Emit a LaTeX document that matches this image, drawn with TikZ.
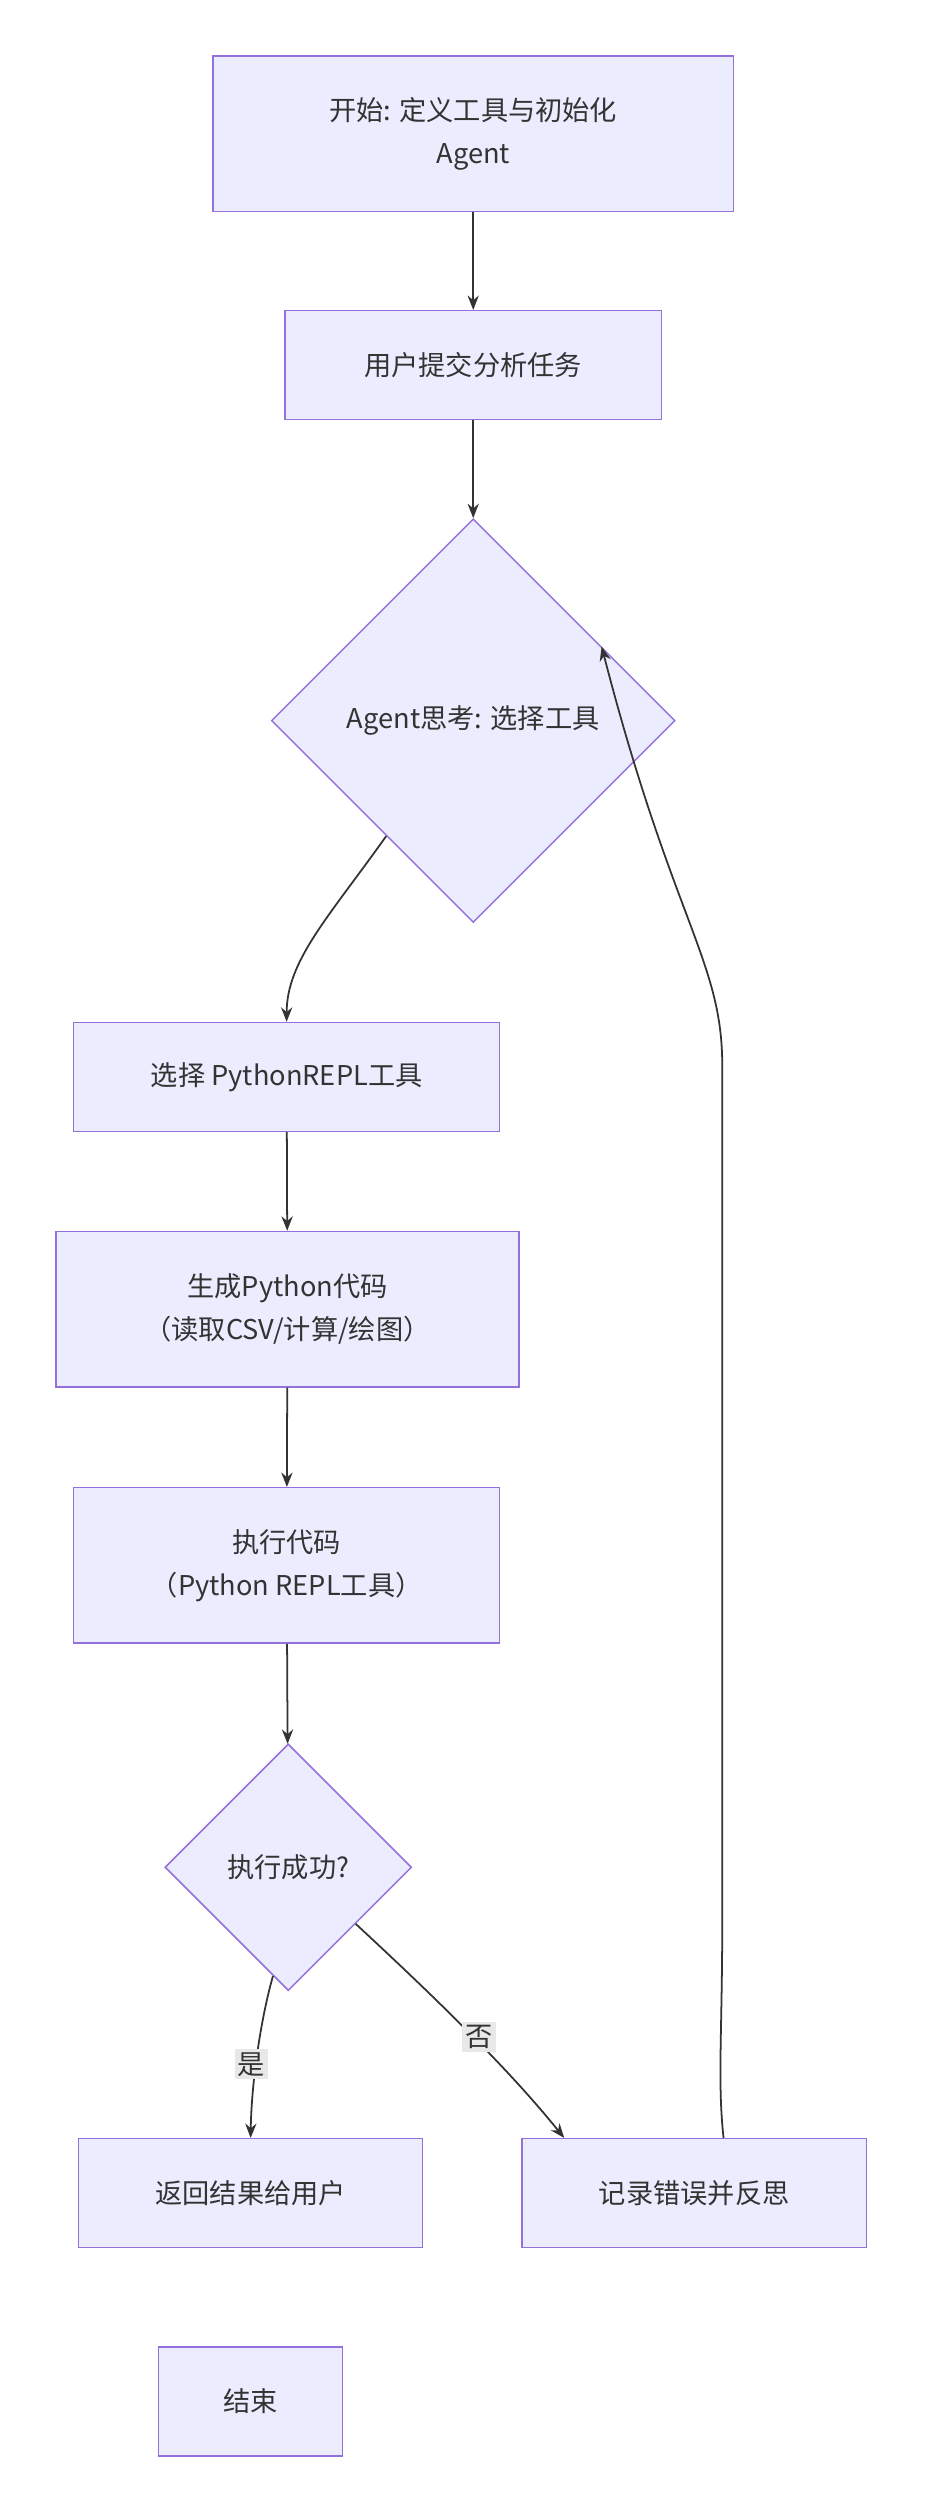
\documentclass[tikz,border=0pt]{standalone}
\usepackage{fontspec}
\setmainfont{Noto Sans CJK SC}
\usetikzlibrary{shapes.geometric,arrows.meta}
\definecolor{nfill}{HTML}{ECECFF}
\definecolor{nline}{HTML}{9370DB}
\definecolor{eline}{HTML}{333333}
\definecolor{lbg}{HTML}{E8E8E8}
\begin{document}
\begin{tikzpicture}[x=1pt,y=1pt,
  every node/.style={font=\fontsize{17}{27}\selectfont, text=eline},
  box/.style={draw=nline, fill=nfill, line width=0.9pt, align=center, inner sep=0pt},
  dia/.style={diamond, draw=nline, fill=nfill, line width=0.9pt, align=center, inner sep=0pt, aspect=1},
  edge/.style={draw=eline, line width=1.1pt, -{Stealth[length=9pt,width=7pt]}},
  lbl/.style={fill=lbg, inner sep=2pt}]
\useasboundingbox (0,0) rectangle (577,-1568);
\node[box, minimum width=325, minimum height=97] (start) at (295.5,-83.5) {开始: 定义工具与初始化\\Agent};
\node[box, minimum width=235, minimum height=68] (submit) at (295.5,-228) {用户提交分析任务};
\node[dia, minimum width=252, minimum height=252] (think) at (295.5,-450) {Agent思考: 选择工具};
\node[box, minimum width=266, minimum height=68] (sel) at (179,-672.5) {选择 PythonREPL工具};
\node[box, minimum width=289, minimum height=97] (gen) at (179.5,-817.5) {生成Python代码\\（读取CSV/计算/绘图）};
\node[box, minimum width=266, minimum height=97] (exec) at (179,-977.5) {执行代码\\（Python REPL工具）};
\node[dia, minimum width=154, minimum height=154] (ok) at (180,-1166) {执行成功?};
\node[box, minimum width=215, minimum height=68] (ret) at (156.5,-1369.5) {返回结果给用户};
\node[box, minimum width=215, minimum height=68] (log) at (433.5,-1369.5) {记录错误并反思};
\node[box, minimum width=115, minimum height=68] (end) at (156.5,-1499.5) {结束};

\draw[edge] (start) -- (submit);
\draw[edge] (submit) -- (think);
\draw[edge] (think.233) .. controls (205,-573) and (179,-600) .. (sel.north);
\draw[edge] (sel) -- (gen);
\draw[edge] (gen) -- (exec);
\draw[edge] (exec) -- (ok);
\draw[edge] (ok.262) .. controls (163,-1260) and (157,-1300) .. (ret.north);
\node[lbl] (yes) at (157,-1289) {是};
\draw[edge] (ok.320) .. controls (280,-1255) and (320,-1295) .. (log.157);
\node[lbl] (no) at (299,-1272) {否};
\draw[edge] (log.62) .. controls (448,-1300) and (451,-1270) .. (451,-1200) -- (451,-665) .. controls (451,-600) and (420,-575) .. (think.30);
\end{tikzpicture}
\end{document}
